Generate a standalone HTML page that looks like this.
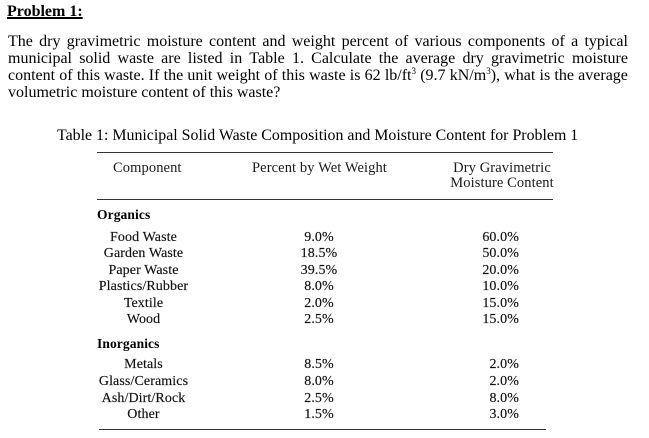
<!DOCTYPE html>
<html>
<head>
<meta charset="utf-8">
<style>
html,body{margin:0;padding:0;background:#fff;}
body{width:649px;height:438px;position:relative;overflow:hidden;font-family:"Liberation Serif","Times New Roman",serif;color:#000;}
.a{position:absolute;white-space:nowrap;}
.p{font-size:16px;line-height:17px;}
.ln{position:absolute;left:8px;width:620px;display:flex;justify-content:space-between;align-items:baseline;white-space:nowrap;font-size:16px;line-height:17px;}
sup{font-size:9px;line-height:0;vertical-align:6px;}
.h{font-size:14.5px;line-height:16px;letter-spacing:0.1px;color:#1a1a1a;}
.t{font-size:14px;line-height:16px;letter-spacing:0.1px;color:#111;-webkit-text-stroke:0.15px #111;}
.b{font-size:13.5px;line-height:16px;font-weight:bold;letter-spacing:0.1px;color:#000;}
.c1{left:43px;width:201px;text-align:center;}
.c2{left:269px;width:100px;text-align:center;}
.c3{left:419px;width:100px;text-align:right;}
.rule{position:absolute;height:1.6px;background:#333;}
</style>
</head>
<body>
<div class="a p" style="left:7px;top:3.4px;font-weight:bold;text-decoration:underline;text-decoration-thickness:1.5px;">Problem 1:</div>

<div class="ln" style="top:33.4px;"><span>The</span><span>dry</span><span>gravimetric</span><span>moisture</span><span>content</span><span>and</span><span>weight</span><span>percent</span><span>of</span><span>various</span><span>components</span><span>of</span><span>a</span><span>typical</span></div>
<div class="ln" style="top:50.4px;"><span>municipal</span><span>solid</span><span>waste</span><span>are</span><span>listed</span><span>in</span><span>Table</span><span>1.</span><span>Calculate</span><span>the</span><span>average</span><span>dry</span><span>gravimetric</span><span>moisture</span></div>
<div class="ln" style="top:67.4px;"><span>content</span><span>of</span><span>this</span><span>waste.</span><span>If</span><span>the</span><span>unit</span><span>weight</span><span>of</span><span>this</span><span>waste</span><span>is</span><span>62</span><span>lb/ft<sup>3</sup></span><span>(9.7</span><span>kN/m<sup>3</sup>),</span><span>what</span><span>is</span><span>the</span><span>average</span></div>
<div class="a p" style="left:8px;top:84.4px;">volumetric moisture content of this waste?</div>

<div class="a p" style="left:57px;top:126.6px;font-size:15.9px;">Table 1: Municipal Solid Waste Composition and Moisture Content for Problem 1</div>

<div class="rule" style="left:97px;width:456px;top:151.5px;"></div>
<div class="a h" style="left:113px;top:159.8px;">Component</div>
<div class="a h" style="left:252px;top:159.8px;">Percent by Wet Weight</div>
<div class="a h" style="left:442px;width:120px;text-align:center;top:159.6px;">Dry Gravimetric</div>
<div class="a h" style="left:442px;width:120px;text-align:center;top:174.8px;">Moisture Content</div>
<div class="rule" style="left:97px;width:456px;top:198.8px;"></div>

<div class="a b" style="left:97px;top:207.4px;">Organics</div>

<div class="a t c1" style="top:229.9px;">Food Waste</div>
<div class="a t c2" style="top:229.9px;">9.0%</div>
<div class="a t c3" style="top:229.9px;">60.0%</div>

<div class="a t c1" style="top:246.3px;">Garden Waste</div>
<div class="a t c2" style="top:246.3px;">18.5%</div>
<div class="a t c3" style="top:246.3px;">50.0%</div>

<div class="a t c1" style="top:262.8px;">Paper Waste</div>
<div class="a t c2" style="top:262.8px;">39.5%</div>
<div class="a t c3" style="top:262.8px;">20.0%</div>

<div class="a t c1" style="top:279.3px;">Plastics/Rubber</div>
<div class="a t c2" style="top:279.3px;">8.0%</div>
<div class="a t c3" style="top:279.3px;">10.0%</div>

<div class="a t c1" style="top:295.8px;">Textile</div>
<div class="a t c2" style="top:295.8px;">2.0%</div>
<div class="a t c3" style="top:295.8px;">15.0%</div>

<div class="a t c1" style="top:312.3px;">Wood</div>
<div class="a t c2" style="top:312.3px;">2.5%</div>
<div class="a t c3" style="top:312.3px;">15.0%</div>

<div class="a b" style="left:97px;top:336.4px;">Inorganics</div>

<div class="a t c1" style="top:357.3px;">Metals</div>
<div class="a t c2" style="top:357.3px;">8.5%</div>
<div class="a t c3" style="top:357.3px;">2.0%</div>

<div class="a t c1" style="top:374px;">Glass/Ceramics</div>
<div class="a t c2" style="top:374px;">8.0%</div>
<div class="a t c3" style="top:374px;">2.0%</div>

<div class="a t c1" style="top:390.6px;">Ash/Dirt/Rock</div>
<div class="a t c2" style="top:390.6px;">2.5%</div>
<div class="a t c3" style="top:390.6px;">8.0%</div>

<div class="a t c1" style="top:407.3px;">Other</div>
<div class="a t c2" style="top:407.3px;">1.5%</div>
<div class="a t c3" style="top:407.3px;">3.0%</div>

<div class="rule" style="left:99px;width:447px;top:428.8px;"></div>
</body>
</html>
